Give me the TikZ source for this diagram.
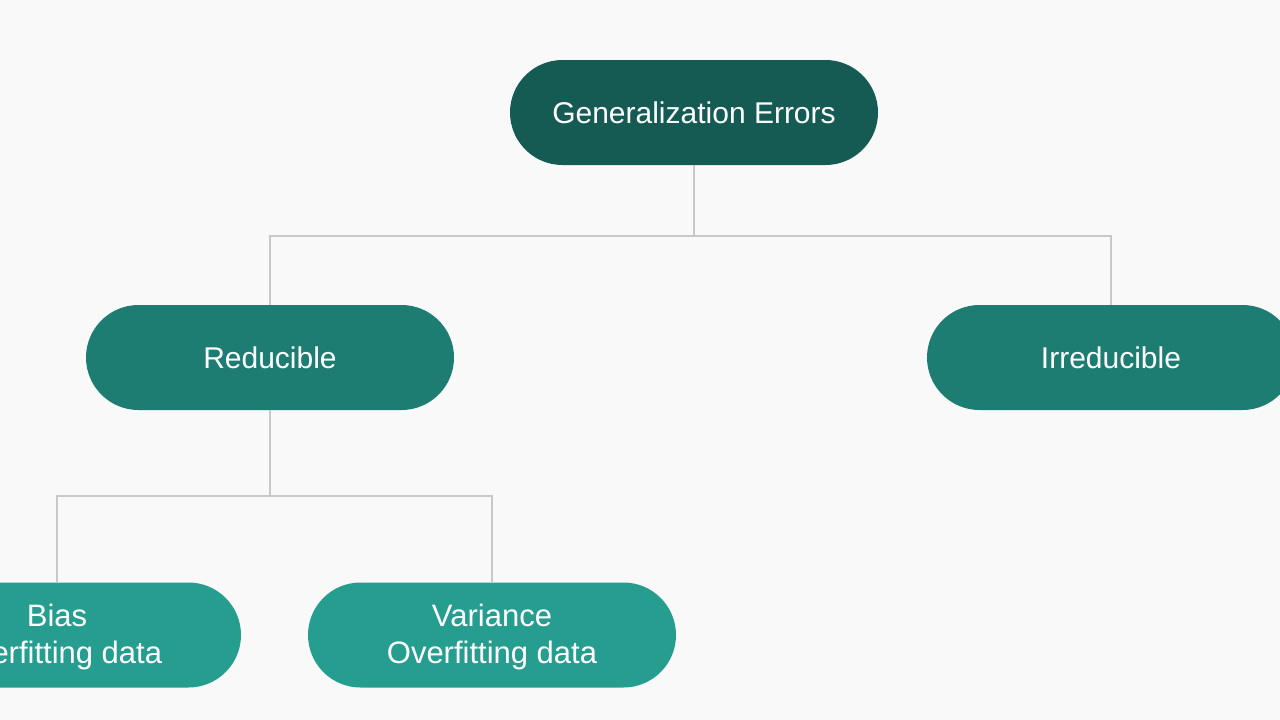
\documentclass[tikz,border=0pt]{standalone}
\usepackage{fontspec}
\setmainfont{Liberation Sans}
\definecolor{bgc}{HTML}{F9F9F9}
\definecolor{c1}{HTML}{165B53}
\definecolor{c2}{HTML}{1E7D72}
\definecolor{c3}{HTML}{259D8F}
\definecolor{lc}{HTML}{C8C8C8}
\tikzset{
  pill/.style={rectangle, rounded corners=52.5pt, minimum width=368pt, minimum height=105pt,
    inner sep=0pt, text=white, align=center, font=\fontsize{30}{38}\selectfont},
  lowpill/.style={pill, font=\fontsize{31}{37}\selectfont},
  lbl/.style={text=white, align=center, inner sep=0pt, font=\fontsize{31}{37}\selectfont},
  conn/.style={draw=lc, line width=1.3pt}
}
\begin{document}
\begin{tikzpicture}[x=1pt,y=-1pt]
\useasboundingbox (0,0) rectangle (1280,720);
\fill[bgc] (0,0) rectangle (1280,720);
\begin{scope}
\clip (0,0) rectangle (1280,720);
\node[pill, fill=c1] (root) at (694,112.5) {Generalization Errors};
\node[pill, fill=c2] (red) at (270,357.5) {Reducible};
\node[pill, fill=c2] (irr) at (1111,357.5) {Irreducible};
\node[lowpill, fill=c3] (bias) at (57,635) {};
\node[lowpill, fill=c3] (var) at (492,635) {};
\node[lbl] (biast) at (57,637) {Bias\\Overfitting data};
\node[lbl] (vart) at (492,637) {Variance\\Overfitting data};
\coordinate (j1) at (694,236);
\coordinate (j2) at (270,496);
\draw[conn] (root.south) -- (j1) -| (red.north);
\draw[conn] (j1) -| (irr.north);
\draw[conn] (red.south) -- (j2) -| (bias.north);
\draw[conn] (j2) -| (var.north);
\end{scope}
\end{tikzpicture}
\end{document}
